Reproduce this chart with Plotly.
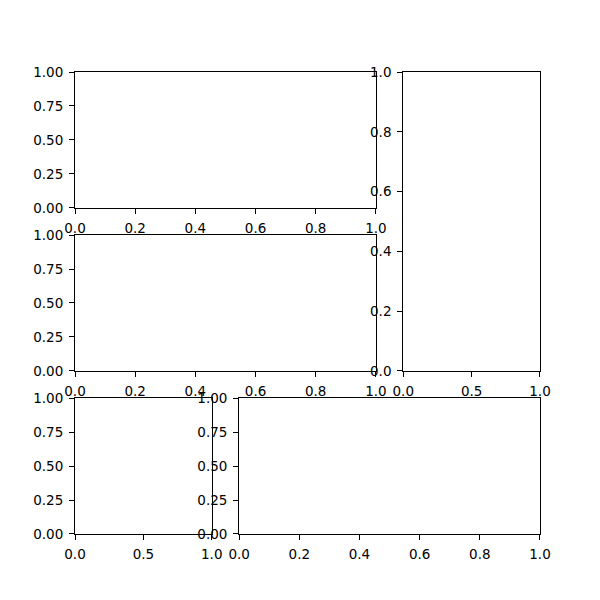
import plotly.graph_objects as go

# tick values / labels for the empty axes
ticks_fifth = [0.0, 0.2, 0.4, 0.6, 0.8, 1.0]
labels_fifth = ['0.0', '0.2', '0.4', '0.6', '0.8', '1.0']
ticks_quarter = [0.0, 0.25, 0.5, 0.75, 1.0]
labels_quarter = ['0.00', '0.25', '0.50', '0.75', '1.00']
ticks_half = [0.0, 0.5, 1.0]
labels_half = ['0.0', '0.5', '1.0']

# 3x3 grid, matplotlib default subplot params
left, right, bottom, top = 0.125, 0.9, 0.11, 0.88
cw = (right - left) / 3.4
ch = (top - bottom) / 3.4
gx = 0.2 * cw
gy = 0.2 * ch


def col(c):
    x0 = left + c * (cw + gx)
    return x0, x0 + cw


def row(r):
    y1 = top - r * (ch + gy)
    return y1 - ch, y1


# (x domain, y domain, x ticks, y ticks)
axes = [
    ((col(0)[0], col(1)[1]), row(0), (ticks_fifth, labels_fifth), (ticks_quarter, labels_quarter)),
    ((col(0)[0], col(1)[1]), row(1), (ticks_fifth, labels_fifth), (ticks_quarter, labels_quarter)),
    (col(2), (row(1)[0], row(0)[1]), (ticks_half, labels_half), (ticks_fifth, labels_fifth)),
    (col(0), row(2), (ticks_half, labels_half), (ticks_quarter, labels_quarter)),
    ((col(1)[0], col(2)[1]), row(2), (ticks_fifth, labels_fifth), (ticks_quarter, labels_quarter)),
]

fig = go.Figure()
common = dict(range=[0, 1], showgrid=False, zeroline=False, showline=True,
              linecolor='black', linewidth=1.1, mirror=True, ticks='outside',
              ticklen=5, tickwidth=1.1, tickcolor='black', ticklabelstandoff=3,
              tickfont=dict(family='DejaVu Sans', size=13.5, color='black'),
              automargin=False, fixedrange=True)

for n, (xd, yd, xt, yt) in enumerate(axes, start=1):
    sfx = '' if n == 1 else str(n)
    fig.add_trace(go.Scatter(x=[], y=[], xaxis='x' + sfx, yaxis='y' + sfx,
                             showlegend=False))
    fig.update_layout({
        'xaxis' + sfx: dict(domain=list(xd), anchor='y' + sfx,
                            tickmode='array', tickvals=xt[0], ticktext=xt[1], **common),
        'yaxis' + sfx: dict(domain=list(yd), anchor='x' + sfx,
                            tickmode='array', tickvals=yt[0], ticktext=yt[1], **common),
    })

fig.update_layout(width=600, height=600, margin=dict(l=0, r=0, t=0, b=0),
                  paper_bgcolor='white', plot_bgcolor='white',
                  font=dict(family='DejaVu Sans', color='black'))

# drop the page's default body margin so the figure sits at 0,0
fig.write_html("out.html", config={'displayModeBar': False},
               post_script="document.body.style.margin='0';"
                           "document.body.style.overflow='hidden';")
